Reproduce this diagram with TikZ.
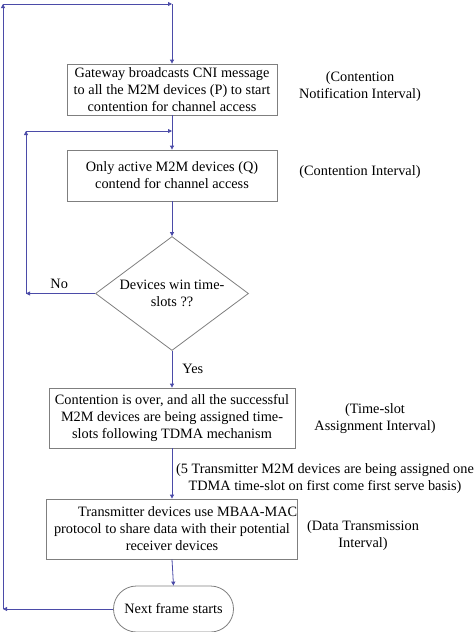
\documentclass[tikz,border=0pt]{standalone}
\usepackage{fontspec}
\setmainfont{Liberation Serif}
\usetikzlibrary{arrows.meta,shapes.geometric,shapes.misc,positioning}

\begin{document}
\begin{tikzpicture}[x=1pt, y=-1pt,
    stepbox/.style={draw=boxBorder, line width=0.8pt, align=center, inner sep=0pt, font=\fontsize{14.3}{17}\selectfont},
    decision/.style={diamond, draw=boxBorder, line width=0.8pt, align=center, inner sep=0pt, aspect=1.34, minimum width=153pt, minimum height=114pt, font=\fontsize{14.3}{17}\selectfont},
    terminal/.style={rounded rectangle, draw=boxBorder, line width=0.8pt, inner sep=0pt, minimum width=120pt, minimum height=46pt, font=\fontsize{14.3}{17}\selectfont},
    note/.style={align=center, inner sep=0pt, font=\fontsize{14.3}{17}\selectfont},
    flow/.style={draw=flowColor, line width=0.8pt, -{Triangle[length=4pt,width=4pt]}}]
    % Palette
    \definecolor{flowColor}{HTML}{4B4BA8}
    \definecolor{boxBorder}{HTML}{7F7F7F}

    \useasboundingbox (0,0) rectangle (474,632);

    % --- Steps ---
    \node[stepbox, minimum width=210pt, minimum height=51pt] (notify) at (172,89.5) {Gateway broadcasts CNI message\\to all the M2M devices (P) to start\\contention for channel access};
    \node[stepbox, minimum width=210pt, minimum height=51pt] (contend) at (172,175.5) {Only active M2M devices (Q)\\contend for channel access};
    \node[decision] (win) at (172,293.5) {Devices win time-\\slots ??};
    \node[stepbox, minimum width=246pt, minimum height=60pt] (assign) at (172,418) {Contention is over, and all the successful\\M2M devices are being assigned time-\\slots following TDMA mechanism};
    \node[stepbox, minimum width=246pt, minimum height=60pt] (transmit) at (172,529) {\hspace*{2.2em}Transmitter devices use MBAA-MAC\\protocol to share data with their potential\\receiver devices};
    \node[terminal] (next) at (173.5,609) {Next frame starts};

    % --- Interval labels ---
    \node[note] (cniLabel) at (360,86.5) {(Contention\\Notification Interval)};
    \node[note] (ciLabel) at (360,172) {(Contention Interval)};
    \node[note] (tsaLabel) at (375,418.5) {(Time-slot\\Assignment Interval)};
    \node[note] (slotLabel) at (325,479) {(5 Transmitter M2M devices are being assigned one\\TDMA time-slot on first come first serve basis)};
    \node[note] (dtiLabel) at (363,536) {(Data Transmission\\Interval)};

    % --- Loop corners ---
    \coordinate (outerBL) at (3,609);
    \coordinate (outerTL) at (3,4);
    \coordinate (outerTR) at (172,4);
    \coordinate (innerBL) at (26,293.5);
    \coordinate (innerTL) at (26,131);
    \coordinate (innerTR) at (172,131);

    % --- Connectors ---
    \draw[flow] (notify.south) -- (contend.north);
    \draw[flow] (contend.south) -- (win.north);
    \draw[flow] (win.south) -- node[right=10pt, note] (yes) {Yes} (assign.north);
    \draw[flow] (assign.south) -- (transmit.north);
    \draw[flow] (transmit.south) -- (next.north);

    % No branch
    \draw[flow] (win.west) -- node[above=4pt, note, pos=0.52] (no) {No} (innerBL);
    \draw[flow] (innerBL) -- (innerTL);
    \draw[flow] (innerTL) -- (innerTR);

    % Next frame
    \draw[flow] (next.west) -- (outerBL);
    \draw[flow] (outerBL) -- (outerTL);
    \draw[flow] (outerTL) -- (outerTR);
    \draw[flow] (outerTR) -- (notify.north);

\end{tikzpicture}
\end{document}
